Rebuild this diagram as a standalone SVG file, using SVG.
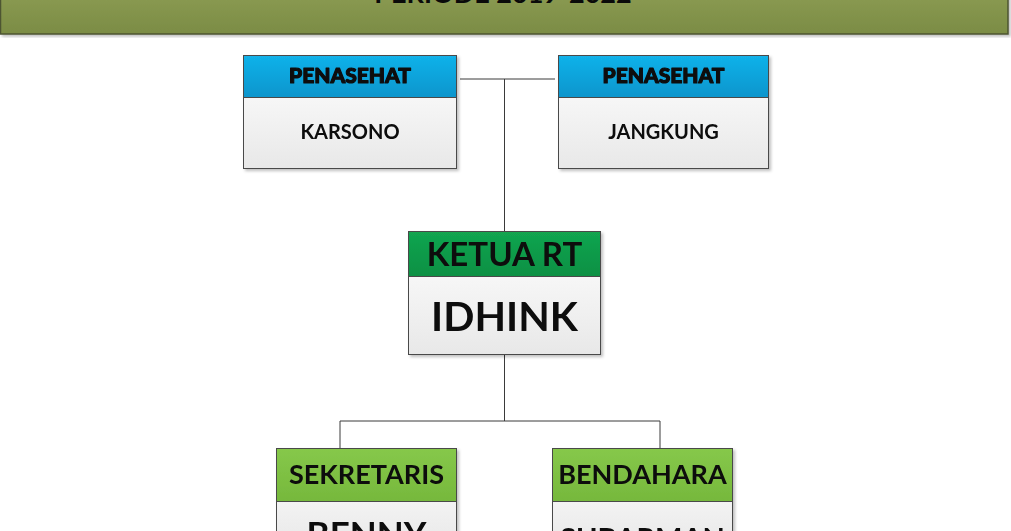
<svg xmlns="http://www.w3.org/2000/svg" width="1011" height="531" viewBox="0 0 1011 531">
<style>
  .t{font-family:Lato,"Open Sans","Liberation Sans",sans-serif;fill:#0a0a0a;text-anchor:middle;font-weight:700}
  .heavy{font-weight:900;stroke:#0a0a0a;stroke-width:1.1;stroke-linejoin:round}
  .box{stroke:#4a4a4a;stroke-width:1}
  .conn{stroke:#3a3a3a;stroke-width:1;fill:none}
</style>
<defs>
  <linearGradient id="gBan" x1="0" y1="0" x2="0" y2="1">
    <stop offset="0" stop-color="#8a9a52"/><stop offset="1" stop-color="#7b8c44"/>
  </linearGradient>
  <linearGradient id="gBlue" x1="0" y1="0" x2="0" y2="1">
    <stop offset="0" stop-color="#12b2ea"/><stop offset="1" stop-color="#0895cc"/>
  </linearGradient>
  <linearGradient id="gGreen" x1="0" y1="0" x2="0" y2="1">
    <stop offset="0" stop-color="#12a550"/><stop offset="1" stop-color="#0b9043"/>
  </linearGradient>
  <linearGradient id="gLime" x1="0" y1="0" x2="0" y2="1">
    <stop offset="0" stop-color="#86c84a"/><stop offset="1" stop-color="#76b83c"/>
  </linearGradient>
  <linearGradient id="gBody" x1="0" y1="0" x2="0" y2="1">
    <stop offset="0" stop-color="#ffffff"/><stop offset="1" stop-color="#e8e8e8"/>
  </linearGradient>
  <filter id="sh" x="-5%" y="-5%" width="115%" height="115%">
    <feDropShadow dx="2" dy="2" stdDeviation="1.5" flood-color="#000" flood-opacity="0.25"/>
  </filter>
</defs>
<rect width="1011" height="531" fill="#ffffff"/>

<g id="banner">
  <rect x="0.5" y="-5" width="1007.5" height="39" fill="url(#gBan)" stroke="#4d5530" stroke-width="1.5" filter="url(#sh)"/>
  <text class="t" x="503" y="3" font-size="27">PERIODE 2019-2022</text>
</g>

<g id="connectors">
  <path class="conn" d="M460 79 H555 M504.5 79 V231"/>
  <path class="conn" d="M504.5 355 V421 M340 421 H660 M340 421 V448 M660 421 V448"/>
</g>

<g id="penasehat-karsono" filter="url(#sh)">
  <rect class="box" x="243.5" y="55.5" width="213" height="113" fill="url(#gBody)"/>
  <rect class="box" x="243.5" y="55.5" width="213" height="42" fill="url(#gBlue)"/>
  <text class="t heavy" x="350" y="83" font-size="21">PENASEHAT</text>
  <text class="t" x="350" y="139" font-size="20">KARSONO</text>
</g>

<g id="penasehat-jangkung" filter="url(#sh)">
  <rect class="box" x="558.5" y="55.5" width="210" height="113" fill="url(#gBody)"/>
  <rect class="box" x="558.5" y="55.5" width="210" height="42" fill="url(#gBlue)"/>
  <text class="t heavy" x="663.5" y="83" font-size="21">PENASEHAT</text>
  <text class="t" x="663.5" y="139" font-size="20">JANGKUNG</text>
</g>

<g id="ketua" filter="url(#sh)">
  <rect class="box" x="408.5" y="231.5" width="192" height="123" fill="url(#gBody)"/>
  <rect class="box" x="408.5" y="231.5" width="192" height="45" fill="url(#gGreen)"/>
  <text class="t" x="504.5" y="266" font-size="33">KETUA RT</text>
  <text class="t" x="504.5" y="331" font-size="41">IDHINK</text>
</g>

<g id="sekretaris" filter="url(#sh)">
  <rect class="box" x="276.5" y="448.5" width="180" height="100" fill="url(#gBody)"/>
  <rect class="box" x="276.5" y="448.5" width="180" height="53" fill="url(#gLime)"/>
  <text class="t" x="366.5" y="484" font-size="27">SEKRETARIS</text>
  <text class="t" x="366.5" y="547" font-size="35">BENNY</text>
</g>

<g id="bendahara" filter="url(#sh)">
  <rect class="box" x="552.5" y="448.5" width="180" height="100" fill="url(#gBody)"/>
  <rect class="box" x="552.5" y="448.5" width="180" height="53" fill="url(#gLime)"/>
  <text class="t" x="642.5" y="484" font-size="27">BENDAHARA</text>
  <text class="t" x="642.5" y="549" font-size="29">SUBARMAN</text>
</g>
</svg>
